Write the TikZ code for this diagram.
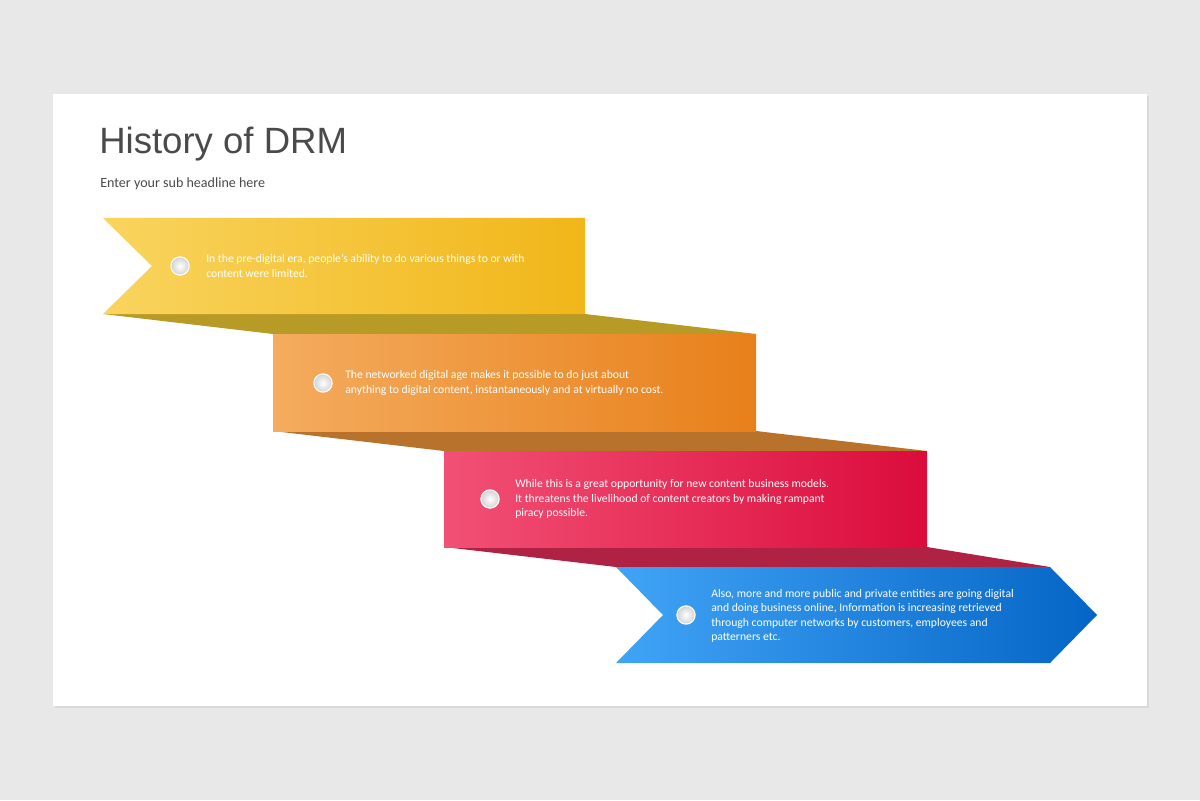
\documentclass[tikz,border=0pt]{standalone}
\usepackage{fontspec}
\setmainfont{Carlito}
\newfontfamily\titlefont{Liberation Sans}
\usetikzlibrary{positioning}
\definecolor{pagegray}{HTML}{E9E8E9}
\definecolor{yelA}{HTML}{F9D45E}\definecolor{yelB}{HTML}{F1B619}
\definecolor{oraA}{HTML}{F4AC5E}\definecolor{oraB}{HTML}{E8801A}
\definecolor{redA}{HTML}{F25075}\definecolor{redB}{HTML}{DB0C3C}
\definecolor{bluA}{HTML}{40A4F6}\definecolor{bluB}{HTML}{0565C6}
\definecolor{yelF}{HTML}{B89A26}\definecolor{oraF}{HTML}{B8722C}
\definecolor{redF}{HTML}{B02244}
\definecolor{titlegray}{HTML}{4A4A4A}
\begin{document}
\begin{tikzpicture}[
    x=0.025cm, y=-0.025cm,
    dot/.style={circle, minimum size=13pt, inner sep=0pt, draw=white, line width=0.8pt, inner color=white, outer color=gray!35},
    bandtext/.style={anchor=west, align=left, text=white, font=\fontsize{8.3}{10.3}\selectfont, inner sep=0pt}
]
    % background and slide
    \fill[pagegray] (0,0) rectangle (1200,800);
    \fill[gray!30] (55,96) rectangle (1149,708);
    \fill[white] (53,94) rectangle (1147,706);

    % titles
    \node[anchor=west, inner sep=0pt, text=titlegray, font=\titlefont\fontsize{26}{30}\selectfont] (title) at (99,144) {History of DRM};
    \node[anchor=west, inner sep=0pt, text=titlegray, font=\fontsize{10}{12}\selectfont] (sub) at (100,184) {Enter your sub headline here};

    % folds
    \fill[yelF] (103,314) -- (585,314) -- (756,334) -- (273,334) -- cycle;
    \fill[oraF] (273,431) -- (756,431) -- (927,451) -- (444,451) -- cycle;
    \fill[redF] (444,547) -- (927,547) -- (1050,567) -- (616,567) -- cycle;

    % bands
    \shade[left color=yelA, right color=yelB] (103,218) -- (585,218) -- (585,314) -- (103,314) -- (152,266) -- cycle;
    \shade[left color=oraA, right color=oraB] (273,334) rectangle (756,431);
    \shade[left color=redA, right color=redB] (444,451) rectangle (927,547);
    \shade[left color=bluA, right color=bluB] (616,567) -- (1050,567) -- (1097,615) -- (1050,663) -- (616,663) -- (663,615) -- cycle;

    % markers
    \node[dot] (d1) at (180,266) {};
    \node[dot] (d2) at (323,383) {};
    \node[dot] (d3) at (490,499) {};
    \node[dot] (d4) at (686,615) {};

    % texts
    \node[bandtext] (t1) at (206,266) {In the pre-digital era, people's ability to do various things to or with\\content were limited.};
    \node[bandtext] (t2) at (345,383) {The networked digital age makes it possible to do just about\\anything to digital content, instantaneously and at virtually no cost.};
    \node[bandtext] (t3) at (515,499) {While this is a great opportunity for new content business models.\\It threatens the livelihood of content creators by making rampant\\piracy possible.};
    \node[bandtext] (t4) at (711,616) {Also, more and more public and private entities are going digital\\and doing business online, Information is increasing retrieved\\through computer networks by customers, employees and\\patterners etc.};
\end{tikzpicture}
\end{document}
